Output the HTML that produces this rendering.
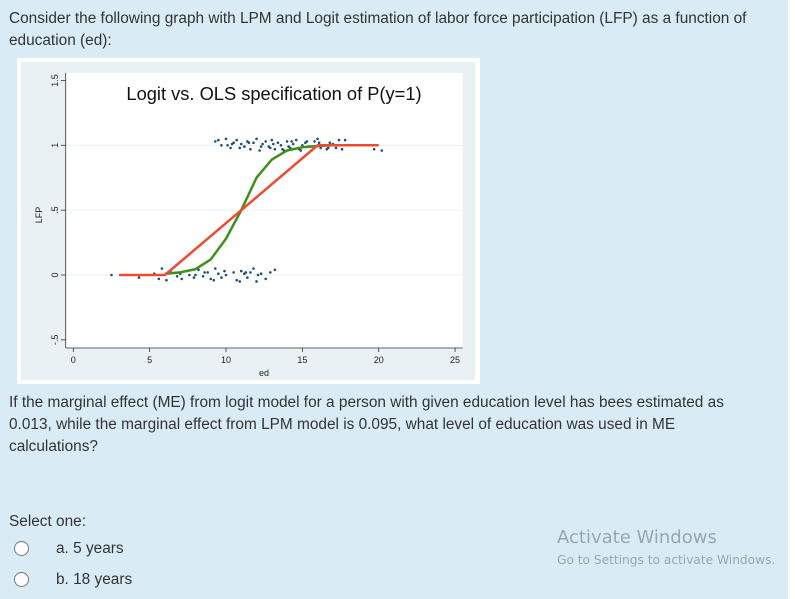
<!DOCTYPE html>
<html><head><meta charset="utf-8"><style>
body{margin:0;width:795px;height:599px;overflow:hidden;background:#fff;font-family:"Liberation Sans",Arial,sans-serif;}
#panel{position:absolute;left:0;top:0;width:788px;height:599px;background:#d9ecf5;}
.t{position:absolute;left:9px;font-size:15.4px;color:#333;line-height:22px;white-space:nowrap;}
.radio{position:absolute;left:14px;width:13px;height:13px;border:1px solid #777;border-radius:50%;background:#fff;}
.wm{position:absolute;color:#9aa6ad;font-family:"DejaVu Sans",sans-serif;white-space:nowrap;}
</style></head><body>
<div id="panel">
<div class="t" style="top:8px">Consider the following graph with LPM and Logit estimation of labor force participation (LFP) as a function of<br>education (ed):</div>
<svg id="chart" style="position:absolute;left:17px;top:58px" width="463" height="326"></svg>
<div class="t" style="top:392px">If the marginal effect (ME) from logit model for a person with given education level has bees estimated as<br>0.013, while the marginal effect from LPM model is 0.095, what level of education was used in ME<br>calculations?</div>
<div class="t" style="top:511px">Select one:</div>
<div class="radio" style="top:541px"></div>
<div class="t" style="left:56px;top:538px">a. 5 years</div>
<div class="radio" style="top:572px"></div>
<div class="t" style="left:56px;top:569px">b. 18 years</div>
<div class="wm" style="left:557px;top:527px;font-size:18px">Activate Windows</div>
<div class="wm" style="left:557px;top:553px;font-size:12.2px">Go to Settings to activate Windows.</div>
</div>
<script>
const xTicks=[0,5,10,15,20,25];
const yTicks=[-0.5,0,0.5,1,1.5];
const yTickLabels=["-.5","0",".5","1","1.5"];
const logitEd=[6,7,8,9,10,11,12,13,14,15,16,17,18];
const logitP=[0.01,0.02,0.045,0.12,0.28,0.5,0.75,0.89,0.96,0.985,0.995,1,1];
const lpmEd=[3,6,16,20];
const lpmP=[0,0,1,1];
const ptsEd1=[9.5,9.7,10,10.3,10.5,10.7,11,11.2,11.4,11.6,11.8,12,12.2,12.4,12.6,12.8,13,13.2,13.4,13.6,13.8,14,14.2,14.4,14.6,14.8,15,15.2,15.4,15.6,15.8,16,16.2,16.4,16.6,16.8,17,17.2,17.4,17.6,17.8,10.1,10.9,11.5,12.3,13.1,13.7,14.3,14.9,15.5,16.1,16.7,17.3,19.7,20.2,9.3,10.4,12.9,14.1,15.3];
const ptsY1=[1.04,1.0,1.05,0.98,1.02,1.04,1.01,0.99,1.03,0.97,1.02,1.05,0.96,1.01,1.03,0.99,1.04,0.97,1.02,1.0,0.96,1.03,0.98,1.01,1.04,0.97,1.0,1.02,0.99,0.96,1.03,1.05,0.98,1.0,0.97,1.02,1.01,0.98,1.04,0.97,1.04,1.0,0.98,1.02,0.99,1.01,0.97,1.03,0.96,0.99,1.02,0.98,1.0,0.97,0.96,1.03,1.01,0.98,0.99,1.03];
const ptsEd0=[2.5,4.3,5.3,5.6,5.8,6.1,6.4,6.8,7.1,7.4,7.6,7.9,8.2,8.5,8.8,9.0,9.3,9.5,9.7,10.0,10.5,10.7,11.0,11.2,11.4,11.6,11.8,12.0,12.3,12.6,12.9,13.2,7.0,8.0,8.6,9.2,9.9,10.9,11.3,12.1];
const ptsY0=[0,-0.02,0.01,-0.03,0.05,-0.04,0.02,-0.01,-0.03,0.03,0.0,-0.02,0.04,-0.01,0.02,-0.03,0.05,0.01,-0.02,0.0,0.02,-0.04,0.03,0.01,-0.02,0.02,0.05,-0.05,0.01,-0.03,0.02,0.04,0.01,0.0,0.02,-0.04,0.03,-0.05,0.02,0.0];
const svg=document.getElementById('chart');
const NS='http://www.w3.org/2000/svg';
const X=v=>56.3+v*15.27;
const Y=v=>217-v*129.7;
function mk(tag,attrs,parent){const e=document.createElementNS(NS,tag);for(const k in attrs)e.setAttribute(k,attrs[k]);(parent||svg).appendChild(e);return e;}
let bg=mk('rect',{x:0,y:0,width:463,height:326,fill:'#ffffff'});


let fr=mk('rect',{x:4,y:4,width:454,height:318,fill:'#eaf1f4'});


let pl=mk('rect',{x:48.7,y:15,width:397,height:275,fill:'#ffffff'});


yTicks.forEach((v,i)=>{
 if(v===0.5||v===1||v===0){let g=mk('line',{x1:48.7,x2:445.7,y1:Y(v),y2:Y(v),stroke:'#eaf2f3','stroke-width':1});
 
 }
 let tk=mk('line',{x1:44,x2:48.7,y1:Y(v),y2:Y(v),stroke:'#333','stroke-width':0.8});
 
 
 let t=mk('text',{x:0,y:0,transform:`translate(41,${Y(v)}) rotate(-90)`,'text-anchor':'middle','font-size':9,fill:'#222'});
 t.textContent=yTickLabels[i];
 
 
});
xTicks.forEach(v=>{
 let tk=mk('line',{x1:X(v),x2:X(v),y1:290,y2:294,stroke:'#333','stroke-width':0.8});
 
 
 let t=mk('text',{x:X(v),y:305,'text-anchor':'middle','font-size':9,fill:'#222'});
 t.textContent=v;
 
 
});
let ax=mk('line',{x1:48.7,x2:48.7,y1:15,y2:290,stroke:'#333','stroke-width':0.8});


let axx=mk('line',{x1:48.7,x2:445.7,y1:290,y2:290,stroke:'#333','stroke-width':0.8});


let xt=mk('text',{x:247,y:318,'text-anchor':'middle','font-size':9,fill:'#222'});
xt.textContent='ed';


let yt=mk('text',{x:0,y:0,transform:'translate(25,157) rotate(-90)','text-anchor':'middle','font-size':9,fill:'#222'});
yt.textContent='LFP';


let ti=mk('text',{x:257,y:42,'text-anchor':'middle','font-size':18.3,fill:'#111'});
ti.textContent='Logit vs. OLS specification of P(y=1)';


ptsEd1.forEach((e,i)=>{let c=mk('circle',{cx:X(e),cy:Y(ptsY1[i]),r:1.3,fill:'#1f4e79'});
 
 });
ptsEd0.forEach((e,i)=>{let c=mk('circle',{cx:X(e),cy:Y(ptsY0[i]),r:1.3,fill:'#1f4e79'});
 
 });
let gl=mk('polyline',{points:logitEd.map((e,i)=>X(e)+','+Y(logitP[i])).join(' '),fill:'none',stroke:'#3f8f1a','stroke-width':2.5});


let rl=mk('polyline',{points:lpmEd.map((e,i)=>X(e)+','+Y(lpmP[i])).join(' '),fill:'none',stroke:'#f04a33','stroke-width':2.5});


</script>
</body></html>
